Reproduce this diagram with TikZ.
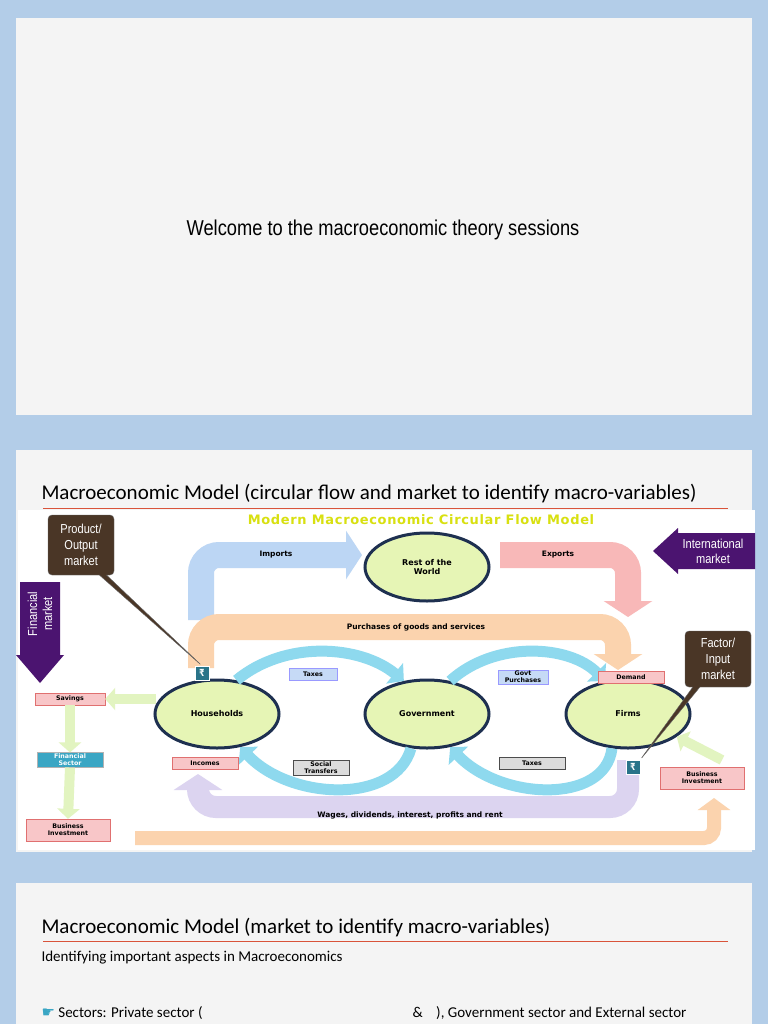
\documentclass[tikz,border=0pt]{standalone}
\usepackage{fontspec}
\setmainfont{Carlito}
\newfontfamily\armfont{Liberation Sans}
\newfontfamily\verfont{DejaVu Sans}
\usetikzlibrary{arrows.meta,shapes.geometric,shapes.callouts,positioning}
\definecolor{frameblue}{HTML}{B3CDE8}
\definecolor{slidegray}{HTML}{F4F4F4}
\definecolor{ballgreen}{HTML}{E6F5B5}
\definecolor{ballrim}{HTML}{1E3050}
\definecolor{boxpink}{HTML}{F8C6C8}
\definecolor{boxred}{HTML}{E07070}
\definecolor{boxblue}{HTML}{C6DAF6}
\definecolor{boxgray}{HTML}{DCDCDC}
\definecolor{teal}{HTML}{3AA6C4}
\definecolor{bandblue}{HTML}{BCD6F4}
\definecolor{bandpink}{HTML}{F8B8B8}
\definecolor{bandorange}{HTML}{FBD3AE}
\definecolor{bandlilac}{HTML}{DCD4F0}
\definecolor{arccyan}{HTML}{8ED9EE}
\definecolor{lightgreen}{HTML}{E2F4C0}
\definecolor{brownbox}{HTML}{4A3626}
\definecolor{purplebox}{HTML}{4B1470}
\definecolor{titleyellow}{HTML}{D8E010}
\definecolor{rulered}{HTML}{D9533A}

\begin{document}
\begin{tikzpicture}
  [x=1pt, y=-1pt,
   sector/.style={ellipse, draw=ballrim, line width=3pt, fill=ballgreen,
                  minimum width=124pt, minimum height=68pt, align=center,
                  font=\verfont\bfseries\fontsize{8}{9.5}\selectfont},
   tag/.style={draw=boxred, fill=boxpink, minimum height=12pt, inner sep=1.5pt,
               align=center, font=\verfont\bfseries\fontsize{6.3}{6.8}\selectfont},
   band/.style={line width=26pt, rounded corners=18pt,
                -{Triangle[length=16pt,width=48pt]}},
   flow/.style={line width=11pt, arccyan, -{Triangle[length=12pt,width=26pt]}},
   green arrow/.style={line width=10pt, lightgreen, -{Triangle[length=10pt,width=22pt]}},
   bandtext/.style={font=\verfont\bfseries\fontsize{7.5}{8}\selectfont},
   callout/.style={rectangle callout, fill=brownbox, draw=black!60, rounded corners=4pt,
                   text=white, align=center, inner sep=2pt,
                   font=\armfont\fontsize{13}{16}\selectfont\addfontfeature{FakeStretch=0.85}},
   market/.style={text=white, align=center,
                  font=\armfont\fontsize{13}{15}\selectfont\addfontfeature{FakeStretch=0.85}},
   rupee/.style={draw=white, fill=teal!70!black, minimum size=14pt, inner sep=0pt,
                 text=white, font=\bfseries\fontsize{11}{11}\selectfont},
   heading/.style={anchor=west, font=\fontsize{21}{24}\selectfont}
  ]
  \useasboundingbox (0,0) rectangle (768,1024);
  \fill[frameblue] (0,0) rectangle (768,1024);

  % slide 1
  \fill[slidegray] (16,18) rectangle (752,415);
  \node (welcome) at (383,230) {\armfont\fontsize{21.5}{24}\selectfont\addfontfeature{FakeStretch=0.85}Welcome to the macroeconomic theory sessions};

  % slide 2
  \fill[slidegray] (16,450) rectangle (752,852);
  \node[heading] (title2) at (38,494) {Macroeconomic Model (circular flow and market to identify macro-variables)};
  \draw[rulered] (43,508) -- (728,508);
  \fill[white] (18,510) rectangle (755,850);
  \node (model) at (421,520) {\verfont\bfseries\color{titleyellow}\fontsize{13}{14}\selectfont\addfontfeature{LetterSpace=5}Modern Macroeconomic Circular Flow Model};

  % bands
  \coordinate (imp0) at (201,620);
  \coordinate (imp1) at (201,555);
  \coordinate (imp2) at (362,555);
  \draw[band, bandblue] (imp0) -- (imp1) -- (imp2);
  \node[bandtext] (imports) at (276,555) {Imports};

  \coordinate (exp0) at (500,555);
  \coordinate (exp1) at (628,555);
  \coordinate (exp2) at (628,617);
  \draw[band, bandpink] (exp0) -- (exp1) -- (exp2);
  \node[bandtext] (exports) at (558,555) {Exports};

  \coordinate (pur0) at (201,668);
  \coordinate (pur1) at (201,627);
  \coordinate (pur2) at (618,627);
  \coordinate (pur3) at (618,670);
  \draw[band, bandorange] (pur0) -- (pur1) -- (pur2) -- (pur3);
  \node[bandtext] (purchases) at (416,627) {Purchases of goods and services};

  \coordinate (wag0) at (628,760);
  \coordinate (wag1) at (628,807);
  \coordinate (wag2) at (198,807);
  \coordinate (wag3) at (198,774);
  \draw[band, bandlilac, line width=22pt] (wag0) -- (wag1) -- (wag2) -- (wag3);
  \node[bandtext] (wages) at (410,815) {Wages, dividends, interest, profits and rent};

  \coordinate (inv0) at (135,838);
  \coordinate (inv1) at (714,838);
  \coordinate (inv2) at (714,798);
  \draw[band, bandorange, line width=14pt, rounded corners=10pt,
        -{Triangle[length=12pt,width=32pt]}] (inv0) -- (inv1) -- (inv2);

  % sectors
  \node[sector] (row)  at (427,567) {Rest of the\\World};
  \node[sector] (hh)   at (217,714) {Households};
  \node[sector] (gov)  at (427,714) {Government};
  \node[sector] (firm) at (628,714) {Firms};

  % inner flows
  \draw[flow] (hh.60)   .. controls (285,640) and (360,645) .. (gov.125);
  \draw[flow] (gov.55)  .. controls (495,640) and (570,645) .. (firm.125);
  \draw[flow] (gov.-115) .. controls (395,805) and (290,800) .. (hh.-55);
  \draw[flow] (firm.-115) .. controls (605,805) and (500,800) .. (gov.-55);

  % tags
  \node[tag, draw=blue!40, fill=boxblue, minimum width=48pt] (taxes1) at (313,674) {Taxes};
  \node[tag, draw=blue!40, fill=boxblue, minimum width=50pt] (govp) at (523,677) {Govt\\Purchases};
  \node[tag, minimum width=66pt] (demand) at (631,677) {Demand};
  \node[tag, draw=black!70, fill=boxgray, minimum width=56pt] (social) at (321,768) {Social\\Transfers};
  \node[tag, draw=black!70, fill=boxgray, minimum width=66pt] (taxes2) at (532,763) {Taxes};
  \node[tag, minimum width=66pt] (incomes) at (205,763) {Incomes};
  \node[tag, minimum width=70pt] (savings) at (70,699) {Savings};
  \node[tag, draw=black!30, fill=teal, text=white, minimum width=66pt] (finsec) at (70,760) {Financial\\Sector};
  \node[tag, minimum width=84pt, minimum height=22pt] (binvl) at (68,830) {Business\\Investment};
  \node[tag, minimum width=84pt, minimum height=22pt] (binvr) at (702,778) {Business\\Investment};

  % green arrows
  \coordinate (hs) at (156,699);
  \draw[green arrow] (hs) -- (savings.east);
  \draw[green arrow] (savings.south) -- (finsec.north);
  \draw[green arrow] (finsec.south) -- (binvl.north);
  \coordinate (gfr) at (722,760);
  \draw[green arrow] (gfr) -- (firm.-25);

  % rupee icons
  \node[rupee] (rup1) at (202,673) {₹};
  \node[rupee] (rup2) at (633,767) {₹};

  % market callouts
  \node[callout, minimum width=66pt, minimum height=60pt,
        callout absolute pointer={(rup1.north)}] (product) at (81,545) {Product/\\Output\\market};
  \node[callout, minimum width=66pt, minimum height=56pt,
        callout absolute pointer={(rup2.north east)}] (factor) at (718,659) {Factor/\\Input\\market};
  \fill[purplebox] (20,582) -- (60,582) -- (60,655) -- (64,655) -- (40,683) -- (16,655) -- (20,655) -- cycle;
  \node[market, rotate=90] (finmkt) at (40,614) {Financial\\market};
  \fill[purplebox] (755,533) -- (678,533) -- (678,528) -- (653,551) -- (678,574) -- (678,569) -- (755,569) -- cycle;
  \node[market] (intmkt) at (713,551) {International\\market};

  % slide 3
  \fill[slidegray] (16,883) rectangle (752,1024);
  \node[heading] (title3) at (38,927) {Macroeconomic Model (market to identify macro-variables)};
  \draw[rulered, line width=0.8pt] (43,941) -- (728,941);
  \node[anchor=west, font=\fontsize{15}{18}\selectfont] (aspects) at (38,958) {Identifying important aspects in Macroeconomics};
  \node[anchor=west, font=\fontsize{15}{18}\selectfont] (sectors) at (38,1013) {{\verfont\color{teal}☛} Sectors: Private sector (\hspace{210pt}\& \hspace{10pt}), Government sector and External sector};
\end{tikzpicture}
\end{document}
